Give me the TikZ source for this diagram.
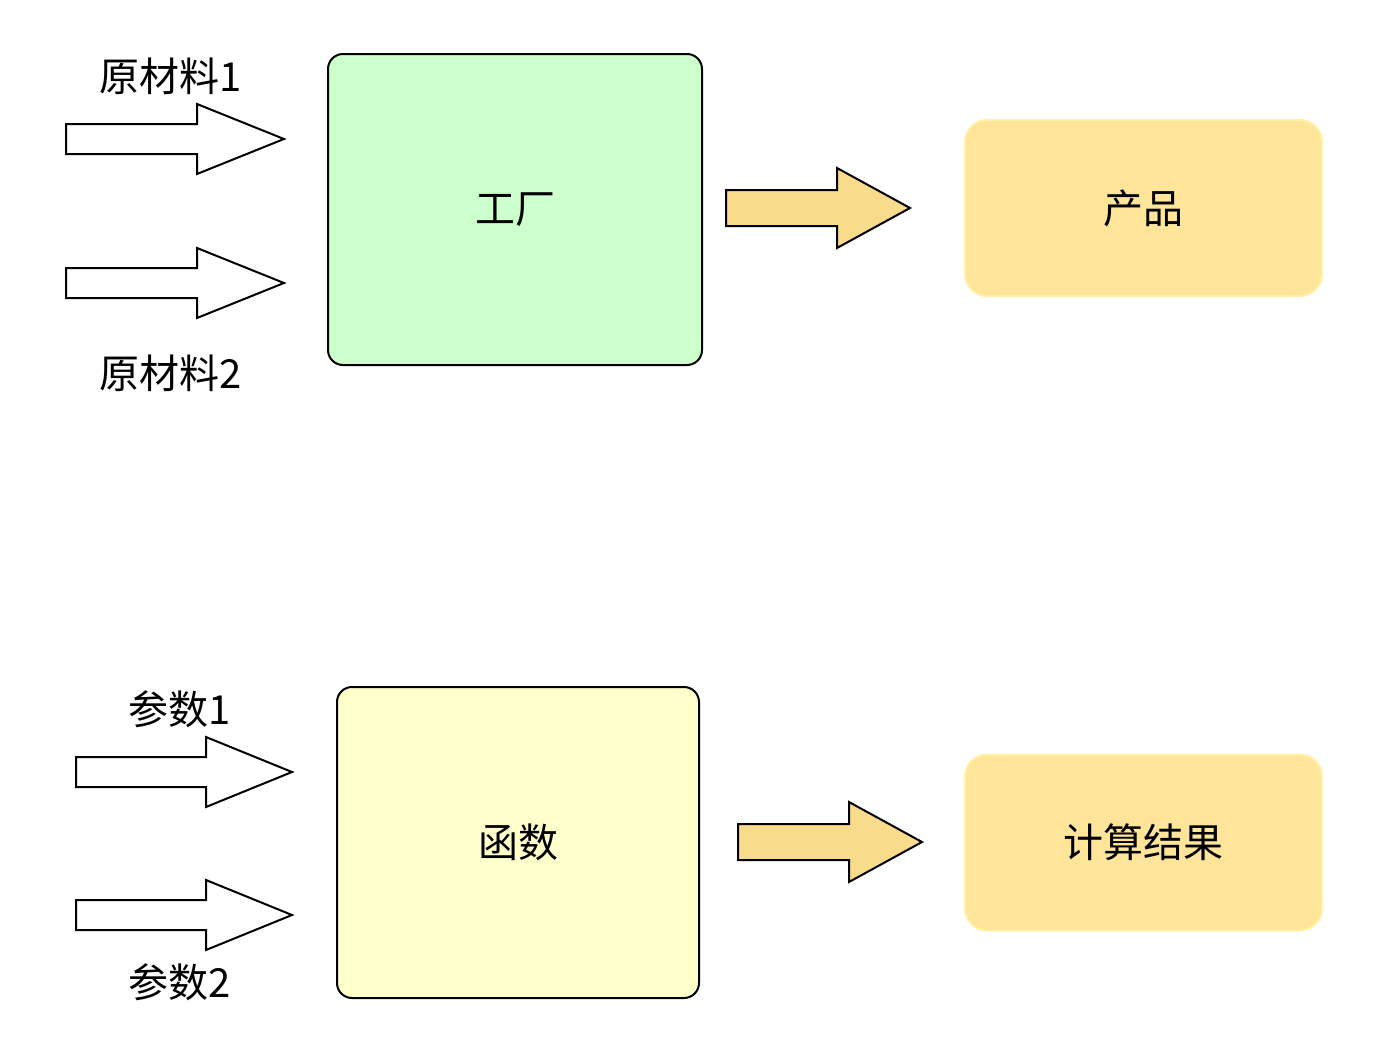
\documentclass[tikz,border=0pt]{standalone}
\usepackage{fontspec}
\setmainfont{Noto Sans CJK SC}
\definecolor{greenfill}{HTML}{CCFFCC}
\definecolor{paleyellow}{HTML}{FFFFCC}
\definecolor{gold}{HTML}{FFE599}
\definecolor{goldline}{HTML}{FFF2A8}
\definecolor{arrowgold}{HTML}{F9DB8C}
\begin{document}
\begin{tikzpicture}[x=1pt,y=-1pt,
  box/.style={draw=black,line width=2pt,rounded corners=15pt},
  softbox/.style={draw=goldline,line width=2pt,fill=gold,rounded corners=22pt},
  lbl/.style={font=\fontsize{40}{46}\selectfont},
  hollow/.style={draw=black,line width=2pt,fill=white,line join=miter},
  goldarrow/.style={draw=black,line width=2pt,fill=arrowgold,line join=miter}]
\useasboundingbox (0,0) rectangle (1373,1052);
\newcommand{\blockarrow}[7]{% style, x0, xh, xt, cy, shaft half, head half
  \draw[#1] (#2,#5-#6) -- (#3,#5-#6) -- (#3,#5-#7) -- (#4,#5) -- (#3,#5+#7) -- (#3,#5+#6) -- (#2,#5+#6) -- cycle;}
\node[box,fill=greenfill,minimum width=374pt,minimum height=311pt] (factory) at (515,209.5) {};
\node[lbl] at (factory.center) {工厂};
\node[softbox,minimum width=357pt,minimum height=176pt] (product) at (1143.5,208) {};
\node[lbl] at (product.center) {产品};
\node[box,fill=paleyellow,minimum width=362pt,minimum height=311pt] (func) at (518,842.5) {};
\node[lbl] at (func.center) {函数};
\node[softbox,minimum width=357pt,minimum height=176pt] (result) at (1143.5,842.5) {};
\node[lbl] at (result.center) {计算结果};
\blockarrow{hollow}{66}{197}{284}{139}{15}{35}
\blockarrow{hollow}{66}{197}{284}{283}{15}{35}
\blockarrow{goldarrow}{726}{837}{910}{208}{18}{40}
\blockarrow{hollow}{76}{206}{292}{772}{15}{35}
\blockarrow{hollow}{76}{206}{292}{915}{15}{35}
\blockarrow{goldarrow}{738}{849}{922}{842}{18}{40}
\node[lbl] (m1) at (171,76) {原材料1};
\node[lbl] (m2) at (171,373) {原材料2};
\node[lbl] (p1) at (180,709) {参数1};
\node[lbl] (p2) at (180,982) {参数2};
\end{tikzpicture}
\end{document}
